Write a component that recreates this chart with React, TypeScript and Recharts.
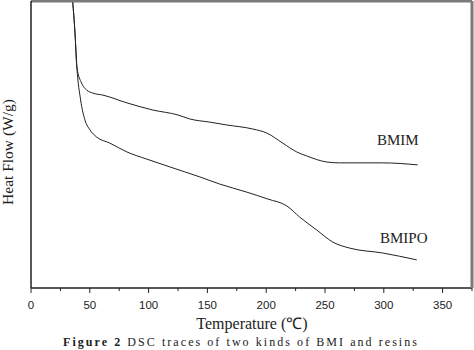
import { LineChart, Line, XAxis, YAxis } from 'recharts'

// temperature (°C) vs heat flow (arbitrary units, no y scale printed)
const bmimTemp = [35.4, 37.4, 39, 43, 47.3, 52.7, 61.2, 81.6, 103.7, 124.9, 135, 152, 166.5, 188.6, 200.5, 214, 226, 234.5, 251.5, 262.5, 299, 328.8]
const bmimFlow = [10, 8.89, 7.7, 7.14, 6.9, 6.79, 6.72, 6.45, 6.2, 6.03, 5.89, 5.78, 5.68, 5.54, 5.4, 5.05, 4.74, 4.6, 4.39, 4.36, 4.36, 4.29]

const bmipoTemp = [35.4, 37.4, 39, 42.2, 45.9, 50.1, 55.8, 67, 81.6, 98.5, 118, 143.6, 160.6, 183.5, 201.4, 217.5, 228.5, 243, 256.6, 271, 299, 328]
const bmipoFlow = [10, 8.89, 7.7, 6.55, 5.85, 5.51, 5.26, 5.05, 4.74, 4.49, 4.22, 3.87, 3.62, 3.34, 3.1, 2.86, 2.47, 2.02, 1.6, 1.39, 1.22, 0.98]

const xTicks = [0, 25, 50, 75, 100, 125, 150, 175, 200, 225, 250, 275, 300, 325, 350, 375]

const bmim = bmimTemp.map((t, i) => ({ t, v: bmimFlow[i] }))
const bmipo = bmipoTemp.map((t, i) => ({ t, v: bmipoFlow[i] }))

const ink = '#222'
const frame = '#7a7a7a'

function TempTick(props: any) {
  const { x, y, payload } = props
  const major = payload.value % 50 === 0
  return (
    <g>
      <line x1={x} x2={x} y1={y} y2={y + (major ? 5 : 3)} stroke={ink} strokeWidth={1} />
      {major && payload.value <= 350 && (
        <text x={x} y={y + 21} textAnchor="middle" fontSize={11.5} fill={ink} fontFamily="'Liberation Sans', Arial, sans-serif">
          {payload.value}
        </text>
      )}
    </g>
  )
}

export default function App() {
  return (
    <div style={{ position: 'absolute', left: 0, top: 0, width: 474, height: 350, overflow: 'hidden', background: '#fff' }}>
      <LineChart width={474} height={350} margin={{ top: 0, right: 1, bottom: 32, left: 31 }}>
        <XAxis
          dataKey="t"
          type="number"
          domain={[0, 375]}
          ticks={xTicks}
          interval={0}
          height={30}
          tickSize={0}
          tickMargin={0}
          tickLine={false}
          tick={<TempTick />}
          axisLine={{ stroke: ink, strokeWidth: 1.5 }}
          allowDataOverflow
        />
        <XAxis xAxisId="top" dataKey="t" orientation="top" type="number" domain={[0, 375]} height={1} tick={false} tickLine={false} axisLine={{ stroke: frame, strokeWidth: 3 }} allowDataOverflow />
        <YAxis type="number" domain={[0, 10]} width={0.01} tick={false} tickLine={false} axisLine={{ stroke: ink, strokeWidth: 1.5 }} allowDataOverflow />
        <YAxis yAxisId="right" orientation="right" type="number" domain={[0, 10]} width={1} tick={false} tickLine={false} axisLine={{ stroke: frame, strokeWidth: 3 }} allowDataOverflow />
        <Line data={bmim} dataKey="v" type="monotone" stroke={ink} strokeWidth={1} dot={false} isAnimationActive={false} />
        <Line data={bmipo} dataKey="v" type="monotone" stroke={ink} strokeWidth={1} dot={false} isAnimationActive={false} />
        {/* invisible series so the frame axes get drawn */}
        <Line data={bmim} dataKey="v" xAxisId="top" yAxisId="right" stroke="none" dot={false} activeDot={false} isAnimationActive={false} />
      </LineChart>
      <svg width={474} height={350} style={{ position: 'absolute', left: 0, top: 0, pointerEvents: 'none' }}>
        <g fontFamily="'Liberation Serif', 'Times New Roman', serif" fill={ink}>
          <text x={377} y={145} fontSize={15}>BMIM</text>
          <text x={380} y={243} fontSize={15}>BMIPO</text>
          <text x={252} y={329} fontSize={16} textAnchor="middle">Temperature (℃)</text>
          <text x={13} y={152} fontSize={15.5} textAnchor="middle" transform="rotate(-90 13 152)">Heat Flow (W/g)</text>
          <text x={63} y={346} fontSize={12} textLength={354} lengthAdjust="spacing">
            <tspan fontWeight="bold">Figure 2</tspan>
            <tspan>{'   DSC traces of two kinds of BMI and resins'}</tspan>
          </text>
        </g>
      </svg>
    </div>
  )
}
